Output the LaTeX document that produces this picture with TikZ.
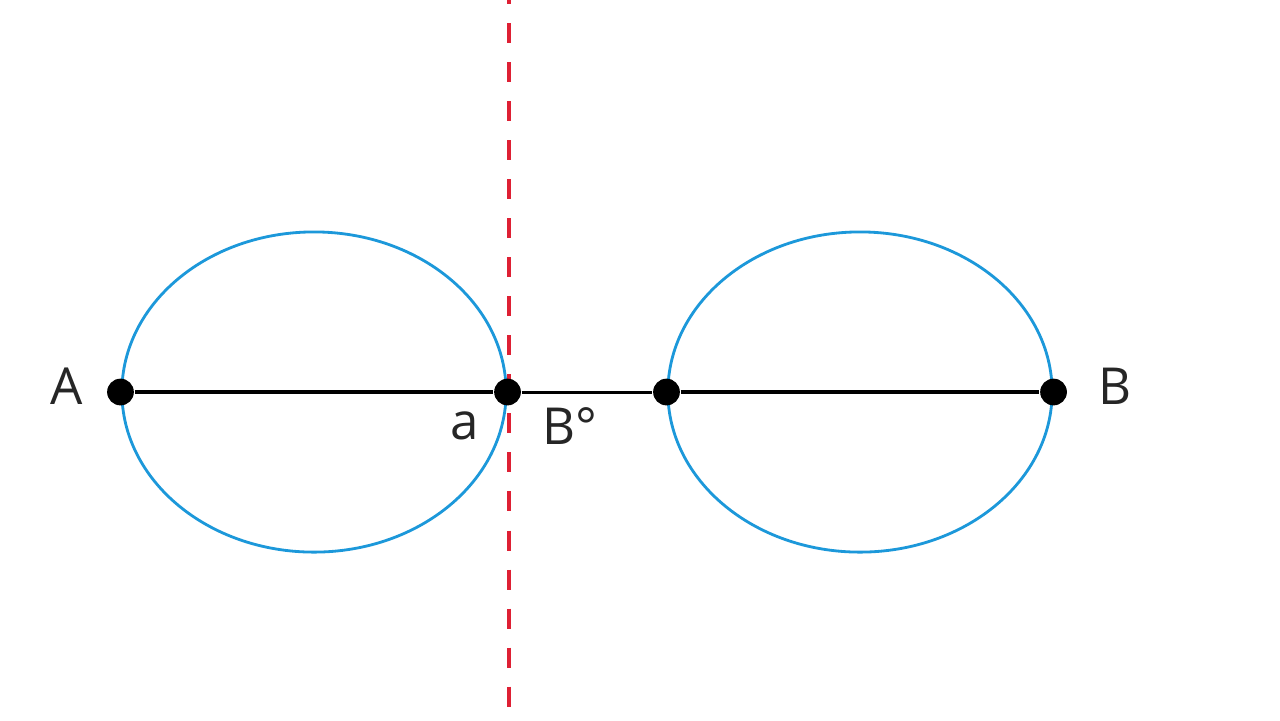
\documentclass[tikz,border=0pt]{standalone}
\usepackage{fontspec}
\setmainfont{Open Sans}
\usepackage{xcolor}
\usepackage{tikz}
\usetikzlibrary{shapes}
\definecolor{loopblue}{RGB}{28,152,218}
\definecolor{cutred}{RGB}{222,32,52}
\def\lbl#1#2#3{\node [lbl] (#1) at (#2) {#3}}
\tikzstyle{loop}=[ellipse,draw=loopblue,line width=0.8pt,inner sep=0pt,minimum width=3.84cm,minimum height=3.2cm]
\tikzstyle{pt}=[circle,fill=black,inner sep=0pt,minimum size=7.6pt]
\tikzstyle{seg}=[line width=1.1pt]
\tikzstyle{lbl}=[font=\fontsize{14.5}{16}\selectfont,text=black!85,inner sep=0pt]
\tikzstyle{cut}=[draw=cutred,line width=1.1pt,dash pattern=on 5.69pt off 5.41pt,dash phase=4.55pt]

\begin{document}
\begin{tikzpicture}[x=0.01cm,y=-0.01cm]
    \useasboundingbox[fill=white] (0,0) rectangle (1280,720);
    \coordinate (top) at (509,0);
    \coordinate (bot) at (509,710);
    \draw[cut] (top) -- (bot);
    \node[loop] (left) at (314,392) {};
    \node[loop] (right) at (860,392) {};
    \node[pt] (A) at (left.west) {};
    \node[pt] (a) at (left.east) {};
    \node[pt] (Bo) at (right.west) {};
    \node[pt] (B) at (right.east) {};
    \draw[seg] (A) -- (a);
    \draw[line width=0.85pt] (a) -- (Bo);
    \draw[seg] (Bo) -- (B);
    \lbl{lA}{67,386}{A};
    \lbl{la}{465,426}{a};
    \lbl{lBo}{570,426}{B\textdegree};
    \lbl{lB}{1115,386}{B};
  \end{tikzpicture}
\end{document}
